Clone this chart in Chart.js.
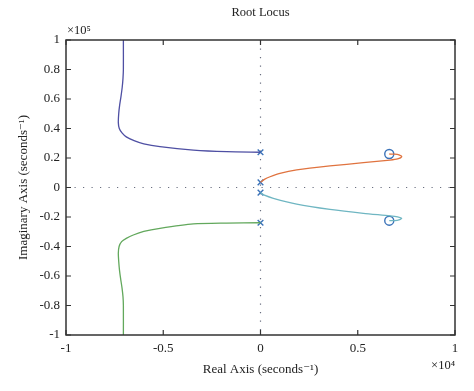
<!DOCTYPE html>
<html>
<head>
<meta charset="utf-8">
<script src="https://cdn.jsdelivr.net/npm/chart.js@4.4.1/dist/chart.umd.min.js"></script>
<style>
html,body{margin:0;padding:0;background:#fff;}
#wrap{width:474px;height:391px;}
</style>
</head>
<body>
<div id="wrap"><canvas id="c" width="474" height="391"></canvas></div>
<script>
// Real axis in units of 1e4 s^-1, imaginary axis in units of 1e5 s^-1
const chartTitle = "Root Locus";
const xTickLabels = ["-1", "-0.5", "0", "0.5", "1"];
const yTickLabels = ["-1", "-0.8", "-0.6", "-0.4", "-0.2", "0", "0.2", "0.4", "0.6", "0.8", "1"];

const branch1X = [0, -0.174, -0.345, -0.517, -0.600, -0.650, -0.690, -0.712, -0.726, -0.731, -0.729, -0.724, -0.717, -0.711, -0.707, -0.705, -0.705];
const branch1Y = [0.239, 0.243, 0.254, 0.277, 0.296, 0.318, 0.343, 0.370, 0.400, 0.440, 0.500, 0.560, 0.620, 0.680, 0.740, 0.800, 1.0];

const branch2X = [0, 0.02, 0.049, 0.1, 0.186, 0.357, 0.529, 0.666, 0.705, 0.726, 0.712, 0.690, 0.662];
const branch2Y = [0.035, 0.055, 0.073, 0.096, 0.119, 0.146, 0.168, 0.186, 0.194, 0.209, 0.221, 0.226, 0.227];

const branch3X = [0, 0.02, 0.066, 0.186, 0.357, 0.529, 0.666, 0.705, 0.726, 0.712, 0.690, 0.662];
const branch3Y = [-0.035, -0.052, -0.073, -0.112, -0.148, -0.175, -0.192, -0.199, -0.209, -0.219, -0.224, -0.225];

const branch4X = [0, -0.174, -0.345, -0.517, -0.600, -0.654, -0.690, -0.714, -0.727, -0.731, -0.729, -0.725, -0.719, -0.712, -0.707, -0.705, -0.705];
const branch4Y = [-0.239, -0.241, -0.247, -0.277, -0.298, -0.322, -0.345, -0.367, -0.400, -0.446, -0.500, -0.560, -0.620, -0.680, -0.740, -0.800, -1.0];

const polesX = [0, 0, 0, 0];
const polesY = [0.239, 0.035, -0.035, -0.239];
const zerosX = [0.662, 0.662];
const zerosY = [0.227, -0.225];

const pts = (xs, ys) => xs.map((x, i) => ({x: x, y: ys[i]}));
const serif = "'Liberation Serif', 'DejaVu Serif', serif";

const lineDs = (label, xs, ys, color) => ({
  label: label, data: pts(xs, ys), showLine: true, borderColor: color,
  borderWidth: 1.3, pointRadius: 0, tension: 0.25, fill: false
});

const framePlugin = {
  id: 'frame',
  beforeDatasetsDraw(chart) {
    const {ctx, chartArea: a, scales: {x, y}} = chart;
    ctx.save();
    ctx.strokeStyle = '#6a6f80';
    ctx.lineWidth = 1.2;
    ctx.setLineDash([1.2, 7.3]);
    const x0 = x.getPixelForValue(0), y0 = y.getPixelForValue(0);
    ctx.beginPath(); ctx.moveTo(x0, a.top); ctx.lineTo(x0, a.bottom); ctx.stroke();
    ctx.beginPath(); ctx.moveTo(a.left, y0); ctx.lineTo(a.right, y0); ctx.stroke();
    ctx.restore();
  },
  afterDatasetsDraw(chart) {
    const {ctx, chartArea: a, scales: {x, y}} = chart;
    ctx.save();
    ctx.strokeStyle = '#333';
    ctx.lineWidth = 1.5;
    ctx.strokeRect(a.left, a.top, a.right - a.left, a.bottom - a.top);
    ctx.lineWidth = 1.2;
    const L = 5;
    ctx.beginPath();
    x.ticks.forEach(t => {
      const px = x.getPixelForValue(t.value);
      ctx.moveTo(px, a.bottom); ctx.lineTo(px, a.bottom - L);
      ctx.moveTo(px, a.top); ctx.lineTo(px, a.top + L);
    });
    y.ticks.forEach(t => {
      const py = y.getPixelForValue(t.value);
      ctx.moveTo(a.left, py); ctx.lineTo(a.left + L, py);
      ctx.moveTo(a.right, py); ctx.lineTo(a.right - L, py);
    });
    ctx.stroke();
    ctx.fillStyle = '#222';
    ctx.textBaseline = 'middle';
    ctx.textAlign = 'center';
    ctx.font = "12.5px " + serif;
    ctx.fillText(chartTitle, (a.left + a.right) / 2, 13);
    ctx.font = "12.5px " + serif;
    ctx.textBaseline = 'alphabetic';
    ctx.textAlign = 'left';
    ctx.fillText('×10⁵', a.left + 1, a.top - 6);
    ctx.textAlign = 'right';
    ctx.fillText('×10⁴', a.right, 369);
    ctx.restore();
  }
};

new Chart(document.getElementById('c'), {
  type: 'scatter',
  data: {
    datasets: [
      lineDs('Branch 1', branch1X, branch1Y, '#4e4fa3'),
      lineDs('Branch 2', branch2X, branch2Y, '#e0733f'),
      lineDs('Branch 3', branch3X, branch3Y, '#6fb6c2'),
      lineDs('Branch 4', branch4X, branch4Y, '#62a85c'),
      {label: 'Poles', data: pts(polesX, polesY), pointStyle: 'crossRot', pointRadius: 4,
       borderColor: '#3a72b8', borderWidth: 1.4, showLine: false},
      {label: 'Zeros', data: pts(zerosX, zerosY), pointStyle: 'circle', pointRadius: 4.5,
       borderColor: '#3a72b8', backgroundColor: 'rgba(0,0,0,0)', borderWidth: 1.4, showLine: false}
    ]
  },
  options: {
    responsive: false,
    animation: false,
    devicePixelRatio: 1,
    layout: {padding: {top: 40, right: 19, left: 0, bottom: 0}},
    plugins: {
      legend: {display: false},
      tooltip: {enabled: false},
      title: {display: false}
    },
    scales: {
      x: {
        type: 'linear', min: -1, max: 1,
        grid: {display: false, drawTicks: false},
        border: {display: false},
        ticks: {stepSize: 0.5, padding: 6, color: '#222', font: {family: serif, size: 13},
                maxRotation: 0, autoSkip: false,
                callback: (v, i) => xTickLabels[i]},
        title: {display: true, text: 'Real Axis (seconds⁻¹)', color: '#222',
                font: {family: serif, size: 13}, padding: {top: 0, bottom: 14}},
        afterFit: s => { s.height = 56; }
      },
      y: {
        type: 'linear', min: -1, max: 1,
        grid: {display: false, drawTicks: false},
        border: {display: false},
        ticks: {stepSize: 0.2, padding: 6, color: '#222', font: {family: serif, size: 13},
                autoSkip: false,
                callback: (v, i) => yTickLabels[i]},
        title: {display: true, text: 'Imaginary Axis (seconds⁻¹)', color: '#222',
                font: {family: serif, size: 13}, padding: {top: 16, bottom: 0}},
        afterFit: s => { s.width = 66; }
      }
    }
  },
  plugins: [framePlugin]
});
</script>
</body>
</html>
